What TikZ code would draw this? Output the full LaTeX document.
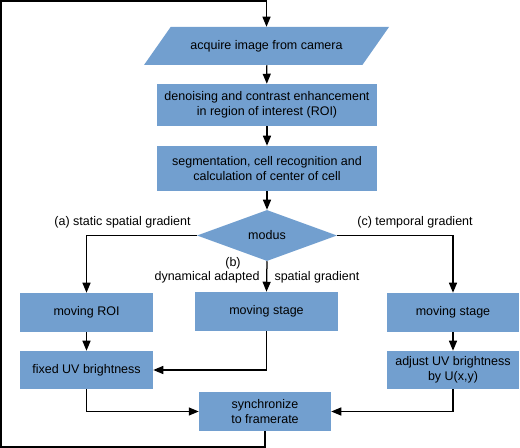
\documentclass[tikz,border=0pt]{standalone}
\usepackage{fontspec}
\setmainfont{Liberation Sans}
\usepackage{tikz}
\usetikzlibrary{shapes.geometric,arrows.meta}

\definecolor{boxblue}{HTML}{729FCF}
\tikzset{
  blk/.style={fill=boxblue,draw=none,align=center,inner sep=2pt,font=\fontsize{10}{12}\selectfont},
  io/.style={blk,trapezium,trapezium left angle=32,trapezium right angle=148,
    trapezium stretches body,minimum width=196pt,minimum height=30.4pt},
  modbox/.style={blk,diamond,inner sep=0pt,minimum width=112pt,minimum height=40.8pt},
  lbl/.style={inner sep=1pt,font=\fontsize{10}{12}\selectfont},
  arr/.style={-{Triangle[length=8pt,width=6.4pt]},line width=1pt}
}

\begin{document}
\begin{tikzpicture}[x=0.8pt,y=-0.8pt]
  \useasboundingbox (0,0) rectangle (520,448);
  % main column
  \node[io] (acq) at (266.5,46) {acquire image from camera};
  \node[blk,minimum width=176pt,minimum height=33.6pt] (den) at (267,105)
    {denoising and contrast enhancement\\in region of interest (ROI)};
  \node[blk,minimum width=176pt,minimum height=36pt] (seg) at (267,168.5)
    {segmentation, cell recognition and\\calculation of center of cell};
  \node[modbox] (mod) at (267,235.5) {modus};
  % branches
  \node[blk,minimum width=106.4pt,minimum height=31.2pt] (roi) at (86.5,312.5) {moving ROI};
  \node[blk,minimum width=114.4pt,minimum height=31.2pt] (stm) at (266.5,311.5) {moving stage};
  \node[blk,minimum width=105.6pt,minimum height=31.2pt] (str) at (453,312.5) {moving stage};
  \node[blk,minimum width=106.4pt,minimum height=30.4pt] (fuv) at (86.5,370) {fixed UV brightness};
  \node[blk,minimum width=105.6pt,minimum height=30.4pt] (auv) at (453,370)
    {adjust UV brightness\\by U(x,y)};
  \node[blk,minimum width=105.6pt,minimum height=31.2pt] (syn) at (265,411.5)
    {synchronize\\to framerate};
  % labels
  \node[lbl] (la) at (122.5,222) {(a) static spatial gradient};
  \node[lbl] (lc) at (415,222) {(c) temporal gradient};
  \node[lbl] (lb) at (233,263) {(b)};
  \node[lbl,anchor=east] (lb1) at (261,277) {dynamical adapted};
  \node[lbl,anchor=west] (lb2) at (273,277) {spatial gradient};
  % loop corners
  \coordinate (cbl) at (1,447);
  \coordinate (ctl) at (1,1);
  \draw[arr] (acq) -- (den);
  \draw[arr] (den) -- (seg);
  \draw[arr] (seg) -- (mod);
  \draw[arr] (mod.west) -| (roi.north);
  \draw[arr] (mod.south) -- (stm.north);
  \draw[arr] (mod.east) -| (str.north);
  \draw[arr] (roi) -- (fuv);
  \draw[arr] (str) -- (auv);
  \draw[arr] (stm.south) |- (fuv.east);
  \draw[arr] (fuv.south) |- (syn.west);
  \draw[arr] (auv.south) |- (syn.east);
  \draw[arr] (syn.south) |- (cbl) -- (ctl) -| (acq.north);
\end{tikzpicture}
\end{document}
